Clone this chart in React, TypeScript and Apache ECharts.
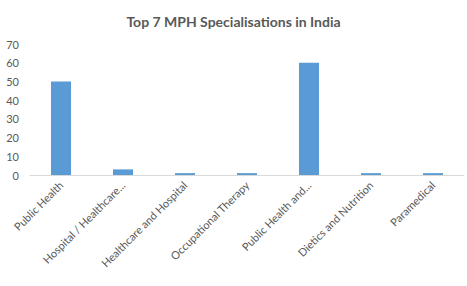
import React, { useEffect, useRef } from "react";
import * as echarts from "echarts";

const categories = [
  "Public Health",
  "Hospital / Healthcare...",
  "Healthcare and Hospital",
  "Occupational Therapy",
  "Public Health and...",
  "Dietics and Nutrition",
  "Paramedical",
];
const values = [50, 3, 1, 1, 60, 1, 1];
const yTicks = { min: 0, max: 70, interval: 10 };

export default function App() {
  const ref = useRef<HTMLDivElement>(null);
  useEffect(() => {
    const chart = echarts.init(ref.current!, null, { renderer: "svg" });
    chart.setOption({
      animation: false,
      backgroundColor: "#ffffff",
      title: {
        text: "Top 7 MPH Specialisations in India",
        left: "center",
        top: 9,
        textStyle: { fontFamily: "Lato", fontWeight: "bold", fontSize: 14, color: "#595959" },
      },
      grid: { left: 30, right: 3, top: 44, bottom: 111, containLabel: false },
      xAxis: {
        type: "category",
        data: categories,
        axisLine: { lineStyle: { color: "#D9D9D9" } },
        axisTick: { show: false },
        axisLabel: {
          rotate: 45,
          interval: 0,
          margin: 8,
          fontFamily: "Lato",
          fontSize: 11,
          color: "#595959",
        },
      },
      yAxis: {
        type: "value",
        min: yTicks.min,
        max: yTicks.max,
        interval: yTicks.interval,
        splitLine: { show: false },
        axisLine: { show: false },
        axisTick: { show: false },
        axisLabel: { fontFamily: "Lato", fontSize: 11, color: "#595959", margin: 11 },
      },
      series: [
        {
          type: "bar",
          data: values,
          barWidth: 20,
          itemStyle: { color: "#5B9BD5" },
        },
      ],
    });
    return () => chart.dispose();
  }, []);
  return <div ref={ref} style={{ width: 467, height: 286, position: "absolute", left: 0, top: 0 }} />;
}
